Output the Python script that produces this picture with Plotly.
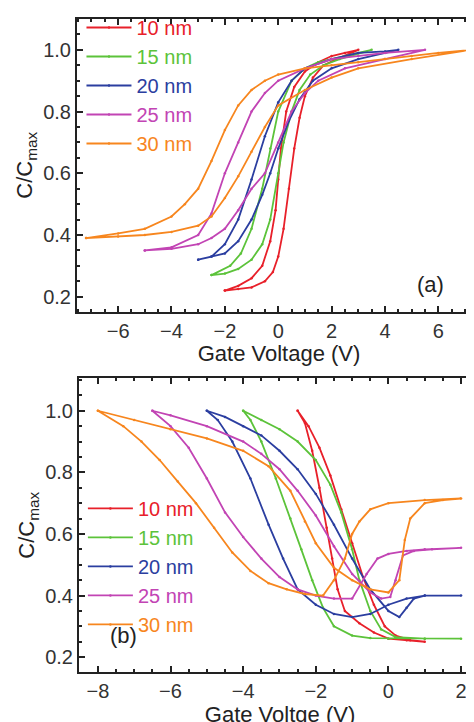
import plotly.graph_objects as go

labels = ["10 nm", "15 nm", "20 nm", "25 nm", "30 nm"]
colors = ["#e8202a", "#5cc33a", "#2b3ea0", "#c244b4", "#f7861e"]

# Panel (a): hysteresis loops (out branch then return branch)
a_x = [
    [-2,-1.5,-1,-0.5,-0.2,0,0.2,0.4,0.6,0.8,1.0,1.3,1.7,2.2,3.0,
     2.5,2,1.5,1.0,0.6,0.3,0.1,0,-0.1,-0.3,-0.6,-1,-1.5,-2],
    [-2.5,-2,-1.5,-1,-0.6,-0.3,0,0.2,0.5,0.8,1.2,1.7,2.3,3.5,
     3,2.5,2,1.5,1,0.5,0,-0.3,-0.6,-1,-1.4,-1.8,-2.5],
    [-3,-2.5,-2,-1.5,-1,-0.6,-0.3,0,0.4,0.8,1.3,2,3,4.5,
     4,3,2,1,0.5,0,-0.5,-1,-1.5,-2,-2.5,-3],
    [-5,-4,-3,-2.5,-2,-1.5,-1,-0.5,0,0.5,1,1.5,2.5,4,5.5,
     4,3,2,1,0,-0.5,-1,-1.5,-2,-2.5,-3,-4,-5],
    [-7.2,-6,-5,-4,-3,-2.5,-2,-1.5,-1,-0.5,0,1,2,3,5,7.2,
     6,5,4,3,2,1,0,-0.5,-1,-1.5,-2,-2.5,-3,-3.5,-4,-5,-6,-7.2],
]
a_y = [
    [0.22,0.225,0.23,0.25,0.28,0.33,0.42,0.55,0.68,0.78,0.85,0.91,0.95,0.97,1.0,
     0.99,0.98,0.96,0.93,0.88,0.8,0.68,0.58,0.48,0.38,0.3,0.26,0.235,0.22],
    [0.27,0.275,0.29,0.32,0.37,0.45,0.6,0.7,0.8,0.87,0.92,0.95,0.97,1.0,
     0.99,0.98,0.97,0.96,0.94,0.9,0.8,0.68,0.55,0.42,0.34,0.3,0.27],
    [0.32,0.33,0.34,0.38,0.45,0.53,0.6,0.68,0.77,0.84,0.9,0.94,0.97,1.0,
     0.995,0.99,0.97,0.94,0.9,0.83,0.72,0.58,0.45,0.37,0.33,0.32],
    [0.35,0.355,0.37,0.39,0.42,0.48,0.55,0.6,0.7,0.8,0.86,0.9,0.94,0.97,1.0,
     0.99,0.98,0.97,0.94,0.9,0.86,0.8,0.7,0.6,0.47,0.4,0.36,0.35],
    [0.39,0.395,0.40,0.41,0.43,0.46,0.52,0.59,0.67,0.75,0.82,0.87,0.91,0.94,0.97,1.0,
     0.99,0.98,0.97,0.96,0.95,0.94,0.92,0.9,0.87,0.82,0.74,0.64,0.55,0.5,0.46,0.42,0.405,0.39],
]

# Panel (b)
b_x = [
    [-2.5,-2.2,-1.9,-1.6,-1.3,-1.0,-0.7,-0.4,-0.1,0.2,0.6,1.0,
     0.5,0,-0.4,-0.8,-1.2,-1.4,-1.55,-1.7,-1.9,-2.1,-2.3,-2.5],
    [-4,-3.5,-3,-2.5,-2,-1.6,-1.3,-1.0,-0.8,-0.5,-0.2,0.2,1,2,
     1,0,-0.5,-1,-1.5,-1.8,-2.1,-2.4,-2.7,-3.1,-3.5,-3.8,-4],
    [-5,-4.5,-4,-3.5,-3,-2.5,-2,-1.5,-1,-0.5,0,0.3,0.5,0.7,1,2,
     1,0.5,0,-0.5,-1,-1.5,-2,-2.5,-2.9,-3.3,-3.8,-4.3,-4.7,-5],
    [-6.5,-6,-5,-4,-3.5,-3,-2.5,-2,-1.5,-1,-0.5,-0.2,0.05,0.2,0.4,0.7,1.2,2,
     1,0.5,0,-0.3,-0.6,-1,-1.5,-2,-2.5,-3,-3.5,-4,-4.5,-5,-5.5,-6,-6.5],
    [-8,-7,-6,-5,-4,-3.3,-2.7,-2.3,-2,-1.5,-1,-0.5,0,0.3,0.45,0.6,1,1.5,2,
     1,0,-0.5,-0.8,-1,-1.2,-1.5,-1.8,-2.3,-2.8,-3.3,-3.8,-4.3,-4.8,-5.3,-5.8,-6.3,-6.8,-7.3,-8],
]
b_y = [
    [1.0,0.95,0.88,0.79,0.68,0.57,0.46,0.37,0.3,0.27,0.255,0.25,
     0.255,0.26,0.28,0.31,0.35,0.42,0.52,0.62,0.75,0.87,0.96,1.0],
    [1.0,0.97,0.94,0.9,0.84,0.76,0.67,0.55,0.45,0.35,0.29,0.265,0.26,0.26,
     0.26,0.26,0.262,0.27,0.3,0.36,0.45,0.55,0.65,0.78,0.9,0.97,1.0],
    [1.0,0.98,0.95,0.92,0.87,0.81,0.73,0.63,0.52,0.42,0.35,0.33,0.36,0.39,0.4,0.4,
     0.4,0.39,0.37,0.34,0.33,0.34,0.37,0.42,0.52,0.63,0.78,0.9,0.97,1.0],
    [1.0,0.985,0.95,0.9,0.86,0.81,0.74,0.66,0.56,0.47,0.41,0.39,0.395,0.45,0.53,0.545,0.55,0.555,
     0.55,0.545,0.535,0.52,0.47,0.39,0.39,0.4,0.42,0.46,0.52,0.59,0.67,0.78,0.88,0.95,1.0],
    [1.0,0.97,0.94,0.91,0.87,0.82,0.74,0.64,0.57,0.49,0.45,0.42,0.41,0.45,0.58,0.65,0.7,0.71,0.715,
     0.71,0.7,0.68,0.64,0.6,0.52,0.45,0.4,0.405,0.42,0.44,0.48,0.54,0.62,0.7,0.77,0.84,0.9,0.95,1.0],
]

fig = go.Figure()
for i in range(5):
    nm = f"<span style='color:{colors[i]}'>{labels[i]}</span>"
    fig.add_trace(go.Scatter(x=a_x[i], y=a_y[i], mode="lines+markers", name=nm,
                             line=dict(color=colors[i], width=1.8), marker=dict(size=2.5),
                             xaxis="x", yaxis="y", legend="legend"))
    fig.add_trace(go.Scatter(x=b_x[i], y=b_y[i], mode="lines+markers", name=nm,
                             line=dict(color=colors[i], width=1.8), marker=dict(size=2.5),
                             xaxis="x2", yaxis="y2", legend="legend2"))

ax = dict(showline=True, linecolor="#222", linewidth=2, mirror="ticks", ticks="inside",
          ticklen=6, tickwidth=1.5, tickcolor="#222", showgrid=False, zeroline=False,
          automargin=False, tickfont=dict(size=20, color="#333"),
          minor=dict(ticks="inside", ticklen=3, tickcolor="#222"))
ttl = dict(size=22, color="#222")
fig.update_layout(
    width=474, height=722, margin=dict(l=0, r=0, t=0, b=0),
    paper_bgcolor="white", plot_bgcolor="white",
    font=dict(family="Liberation Sans, Arial", color="#222"),
    xaxis=dict(ax, domain=[0.1456, 0.998], range=[-7.54, 7.6], dtick=2, anchor="y",
               title=dict(text="Gate Voltage (V)", font=ttl, standoff=2)),
    yaxis=dict(ax, domain=[0.5886, 1.0], range=[0.152, 1.10], dtick=0.2, tickformat=".1f", anchor="x",
               title=dict(text="C/C<sub>max</sub>", font=ttl, standoff=4)),
    xaxis2=dict(ax, domain=[0.1498, 0.998], range=[-8.52, 2.55], dtick=2, anchor="y2",
                title=dict(text="Gate Voltge (V)", font=ttl, standoff=2)),
    yaxis2=dict(ax, domain=[0.0817, 0.4945], range=[0.152, 1.105], dtick=0.2, tickformat=".1f", anchor="x2",
                title=dict(text="C/C<sub>max</sub>", font=ttl, standoff=4)),
    legend=dict(x=0.155, y=1.016, xanchor="left", yanchor="top", bgcolor="rgba(0,0,0,0)",
                font=dict(size=20), tracegroupgap=0, itemwidth=45),
    legend2=dict(x=0.158, y=0.339, xanchor="left", yanchor="top",
                 bgcolor="rgba(0,0,0,0)", font=dict(size=20), tracegroupgap=0, itemwidth=45),
    annotations=[
        dict(text="(a)", xref="paper", yref="paper", x=0.925, y=1 - 270 / 722, showarrow=False,
             font=dict(size=22, color="#222")),
        dict(text="(b)", xref="paper", yref="paper", x=0.21, y=1 - 641 / 722, showarrow=False,
             font=dict(size=22, color="#222")),
    ],
)
fig.write_html("out.html")
